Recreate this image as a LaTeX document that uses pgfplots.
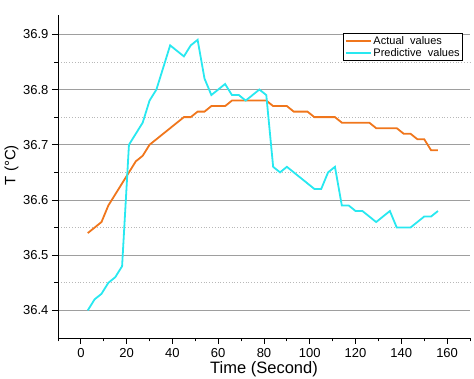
\documentclass[border=0pt]{standalone}
\usepackage{fontspec}
\setmainfont{Liberation Sans}
\usepackage{pgfplots}
\pgfplotsset{compat=1.18}
\definecolor{actc}{RGB}{240,118,28}
\definecolor{prdc}{RGB}{40,232,240}
\begin{document}
\begin{tikzpicture}
\begin{axis}[
  scale only axis, width=412pt, height=323pt,
  xmin=-10, xmax=170, ymin=36.35, ymax=36.935,
  axis x line*=bottom, axis y line*=left,
  axis line style={-, line width=0.9pt, black},
  xtick={0,20,40,60,80,100,120,140,160},
  minor xtick={-10,10,30,50,70,90,110,130,150,170},
  ytick={36.4,36.5,36.6,36.7,36.8,36.9},
  minor ytick={36.45,36.55,36.65,36.75,36.85},
  tick align=outside, major tick length=6pt, minor tick length=3.5pt,
  tick style={black, line width=0.8pt},
  ymajorgrids, yminorgrids,
  major grid style={draw=black!38, line width=0.9pt, solid},
  minor grid style={draw=black!28, line width=0.8pt, dotted},
  /pgf/number format/assume math mode=true,
  yticklabel style={/pgf/number format/fixed, /pgf/number format/precision=1, /pgf/number format/fixed zerofill},
  tick label style={font=\fontsize{13}{15}\selectfont},
  xticklabel style={yshift=-1pt, text depth=0pt},
  xlabel={Time (Second)},
  xlabel style={at={(axis description cs:0.5,-0.096)}, anchor=center, font=\fontsize{16.5}{19}\selectfont},
  ylabel={T (°C)},
  ylabel style={at={(axis description cs:-0.113,0.535)}, anchor=center, font=\fontsize{15}{18}\selectfont},
  legend style={at={(rel axis cs:0.983,0.943)}, anchor=north east, draw=black, line width=0.6pt,
    font=\fontsize{11}{13}\selectfont, inner xsep=1pt, inner ysep=0.5pt, row sep=-1.5pt, fill=white},
  legend cell align=left,
  legend image code/.code={\draw[#1, line width=1.8pt] (-1pt,0pt) -- (24pt,0pt);},
]
\addplot[actc, line width=1.8pt] table {
x y
3 36.54
6 36.55
9 36.56
12 36.59
15 36.61
18 36.63
21 36.65
24 36.67
27 36.68
30 36.70
33 36.71
36 36.72
39 36.73
42 36.74
45 36.75
48 36.75
51 36.76
54 36.76
57 36.77
60 36.77
63 36.77
66 36.78
69 36.78
72 36.78
75 36.78
78 36.78
81 36.78
84 36.77
87 36.77
90 36.77
93 36.76
96 36.76
99 36.76
102 36.75
105 36.75
108 36.75
111 36.75
114 36.74
117 36.74
120 36.74
123 36.74
126 36.74
129 36.73
132 36.73
135 36.73
138 36.73
141 36.72
144 36.72
147 36.71
150 36.71
153 36.69
156 36.69
};
\addlegendentry{Actual\ \ values}
\addplot[prdc, line width=1.8pt] table {
x y
3 36.40
6 36.42
9 36.43
12 36.45
15 36.46
18 36.48
21 36.70
24 36.72
27 36.74
30 36.78
33 36.80
36 36.84
39 36.88
42 36.87
45 36.86
48 36.88
51 36.89
54 36.82
57 36.79
60 36.80
63 36.81
66 36.79
69 36.79
72 36.78
75 36.79
78 36.80
81 36.79
84 36.66
87 36.65
90 36.66
93 36.65
96 36.64
99 36.63
102 36.62
105 36.62
108 36.65
111 36.66
114 36.59
117 36.59
120 36.58
123 36.58
126 36.57
129 36.56
132 36.57
135 36.58
138 36.55
141 36.55
144 36.55
147 36.56
150 36.57
153 36.57
156 36.58
};
\addlegendentry{Predictive\ \ values}
\end{axis}
\pgfresetboundingbox
\path[use as bounding box] (-58pt,-41pt) rectangle (416pt,338pt);
\end{tikzpicture}
\end{document}
